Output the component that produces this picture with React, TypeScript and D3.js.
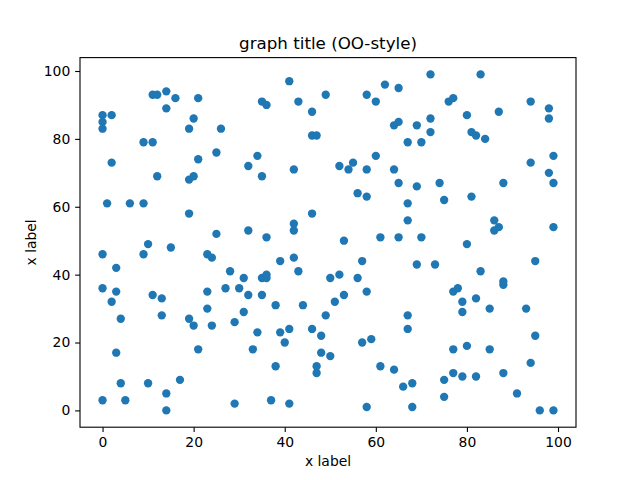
import { useEffect, useRef } from 'react';
import * as d3 from 'd3';

// scatter points (integer values 0..99)
const xValues = [
  0, 0, 0, 2, 11, 12, 14, 16, 14, 21, 20, 19, 26, 9, 11, 25, 21, 32, 2, 12, 19, 20, 1, 6, 9, 19, 25, 32, 10, 15,
  0, 9, 23, 24, 3, 28, 31, 0, 3, 2, 11, 13, 23, 27, 30, 32, 23, 31, 13, 4, 19, 20, 24, 29, 21, 3, 33, 4, 10, 17, 14, 0, 5, 29, 14,
  41, 35, 36, 43, 46, 49, 46, 47, 58, 60, 62, 65, 64, 65, 67, 34, 35, 42, 52, 54, 55, 58, 60, 64, 65, 56, 58, 67, 67, 46, 36, 42, 42, 53, 61, 65,
  39, 42, 43, 57, 35, 36, 36, 35, 38, 44, 50, 52, 56, 58, 53, 51, 49, 34, 39, 41, 40, 46, 48, 48, 50, 38, 47, 47, 57, 59, 67, 67, 61, 64, 66, 68, 37, 41, 58, 68,
  72, 83, 76, 77, 94, 98, 98, 87, 80, 72, 69, 72, 70, 81, 82, 84, 99, 94, 98, 99, 88, 74, 69, 75, 81, 86, 87, 86, 99, 70, 80,
  69, 73, 83, 95, 88, 88, 77, 78, 79, 82, 79, 85, 93, 95, 77, 80, 85, 94, 77, 79, 82, 88, 75, 75, 91, 96, 99,
];

const yValues = [
  87, 85, 83, 87, 93, 93, 94, 92, 89, 92, 86, 83, 83, 79, 79, 76, 74, 72, 73, 69, 68, 69, 61, 61, 61, 58, 52, 53, 49, 48,
  46, 46, 46, 45, 42, 41, 39, 36, 35, 32, 34, 33, 35, 36, 36, 34, 30, 29, 28, 27, 27, 25, 25, 26, 18, 17, 18, 8, 8, 9, 5, 3, 3, 2, 0,
  97, 91, 90, 91, 88, 93, 81, 81, 93, 91, 96, 95, 84, 85, 79, 75, 69, 71, 72, 71, 73, 71, 75, 71, 67, 64, 63, 61, 56, 58, 51, 55, 53, 50, 51, 51,
  44, 45, 41, 44, 39, 40, 39, 34, 31, 31, 39, 40, 39, 35, 34, 32, 28, 23, 23, 24, 20, 24, 22, 17, 16, 13, 13, 11, 20, 21, 28, 24, 13, 12, 7, 8, 3, 2, 1, 1,
  99, 99, 91, 92, 91, 89, 86, 88, 87, 86, 84, 82, 79, 82, 81, 80, 75, 73, 70, 67, 67, 67, 66, 62, 63, 56, 54, 53, 54, 51, 49,
  43, 43, 41, 44, 38, 37, 35, 36, 32, 33, 29, 30, 30, 22, 18, 19, 18, 14, 11, 10, 10, 11, 9, 4, 5, 0, 0,
];

const xTicks = [0, 20, 40, 60, 80, 100];
const yTicks = [0, 20, 40, 60, 80, 100];

const W = 640;
const H = 480;
const margin = { left: 80, right: 64, top: 57.6, bottom: 52.8 };
const font = 'DejaVu Sans, sans-serif';

export default function App() {
  const svgRef = useRef<SVGSVGElement>(null);

  useEffect(() => {
    document.body.style.margin = '0';
    if (!svgRef.current) return;

    const innerW = W - margin.left - margin.right;
    const innerH = H - margin.top - margin.bottom;

    const svg = d3.select(svgRef.current);
    svg.selectAll('*').remove();

    const x = d3.scaleLinear().domain([-4.95, 103.95]).range([0, innerW]);
    const y = d3.scaleLinear().domain([-4.95, 103.95]).range([innerH, 0]);

    const g = svg.append('g').attr('transform', `translate(${margin.left},${margin.top})`);

    const points = xValues.map((v, i) => ({ x: v, y: yValues[i] }));

    g.selectAll('circle')
      .data(points)
      .join('circle')
      .attr('cx', (d) => x(d.x))
      .attr('cy', (d) => y(d.y))
      .attr('r', 4.17)
      .attr('fill', '#1f77b4');

    const xAxis = g
      .append('g')
      .attr('transform', `translate(0,${innerH})`)
      .call(d3.axisBottom(x).tickValues(xTicks).tickSize(4.86).tickPadding(4.9).tickFormat(d3.format('d')));

    const yAxis = g
      .append('g')
      .call(d3.axisLeft(y).tickValues(yTicks).tickSize(4.86).tickPadding(4.9).tickFormat(d3.format('d')));

    [xAxis, yAxis].forEach((a) => {
      a.select('.domain').remove();
      a.selectAll('line').attr('stroke', '#000').attr('stroke-width', 1.1);
      a.selectAll('text')
        .attr('fill', '#000')
        .style('font-family', font)
        .style('font-size', '13.9px');
    });

    // frame
    g.append('rect')
      .attr('width', innerW)
      .attr('height', innerH)
      .attr('fill', 'none')
      .attr('stroke', '#000')
      .attr('stroke-width', 1.1);

    g.append('text')
      .attr('x', innerW / 2)
      .attr('y', -8.5)
      .attr('text-anchor', 'middle')
      .style('font-family', font)
      .style('font-size', '16.7px')
      .text('graph title (OO-style)');

    g.append('text')
      .attr('x', innerW / 2)
      .attr('y', innerH + 39)
      .attr('text-anchor', 'middle')
      .style('font-family', font)
      .style('font-size', '13.9px')
      .text('x label');

    g.append('text')
      .attr('transform', `translate(${-44},${innerH / 2}) rotate(-90)`)
      .attr('text-anchor', 'middle')
      .style('font-family', font)
      .style('font-size', '13.9px')
      .text('x label');
  }, []);

  return <svg ref={svgRef} width={W} height={H} style={{ display: 'block', background: '#fff' }} />;
}
